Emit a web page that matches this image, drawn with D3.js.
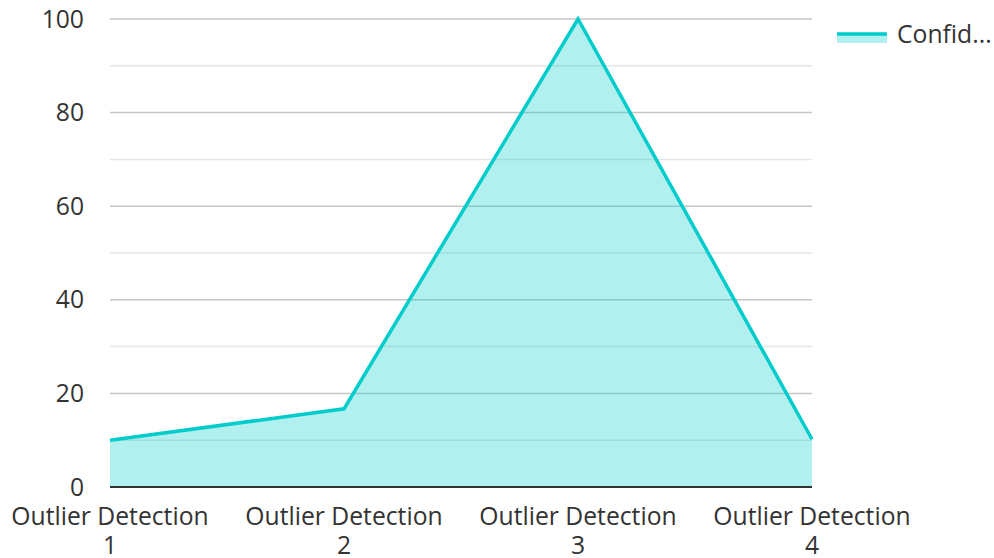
<!DOCTYPE html>
<html>
<head>
<meta charset="utf-8">
<script src="https://cdn.jsdelivr.net/npm/d3@7"></script>
<style>
  body { margin: 0; background: #fff; }
  svg text { font-family: 'Open Sans', 'Noto Sans', sans-serif; fill: #333; }
</style>
</head>
<body>
<div id="target"></div>
<script>
const width = 994;
const height = 558;

const categories = ['Outlier Detection 1', 'Outlier Detection 2', 'Outlier Detection 3', 'Outlier Detection 4'];
const values = [10, 16.7, 100, 10.2];
const seriesName = 'Confidence';
const yTicks = [0, 20, 40, 60, 80, 100];
const yMinor = [10, 30, 50, 70, 90];

const margin = { left: 110, right: 182, top: 19, bottom: 71 };
const lineColor = '#00cccc';
const fillColor = 'rgba(0, 204, 204, 0.3)';
const fontSize = '24.7px';

const svg = d3.select('#target').append('svg').attr('width', width).attr('height', height);

const x = d3.scalePoint().domain(categories).range([margin.left, width - margin.right]);
const y = d3.scaleLinear().domain([0, 100]).range([height - margin.bottom, margin.top]);

// grid
svg.selectAll('.minor')
  .data(yMinor)
  .enter()
  .append('line')
  .attr('x1', margin.left)
  .attr('x2', width - margin.right)
  .attr('y1', (d) => y(d))
  .attr('y2', (d) => y(d))
  .attr('stroke', '#e6e6e6')
  .attr('stroke-width', 1.5);

svg.selectAll('.major')
  .data(yTicks.filter((d) => d > 0))
  .enter()
  .append('line')
  .attr('x1', margin.left)
  .attr('x2', width - margin.right)
  .attr('y1', (d) => y(d))
  .attr('y2', (d) => y(d))
  .attr('stroke', '#c6c6c6')
  .attr('stroke-width', 1.5);

// y labels
svg.selectAll('.ylab')
  .data(yTicks)
  .enter()
  .append('text')
  .attr('x', 84)
  .attr('y', (d) => y(d))
  .attr('dy', '0.35em')
  .attr('text-anchor', 'end')
  .style('font-size', fontSize)
  .text((d) => d);

const pts = categories.map((c, i) => ({ c, v: values[i] }));

const area = d3.area()
  .x((d) => x(d.c))
  .y0(y(0))
  .y1((d) => y(d.v));

const line = d3.line()
  .x((d) => x(d.c))
  .y((d) => y(d.v));

svg.append('path').datum(pts).attr('d', area).attr('fill', fillColor);
svg.append('path').datum(pts).attr('d', line)
  .attr('fill', 'none')
  .attr('stroke', lineColor)
  .attr('stroke-width', 3.5)
  .attr('stroke-linejoin', 'miter');

// x axis line
svg.append('line')
  .attr('x1', margin.left)
  .attr('x2', width - margin.right)
  .attr('y1', y(0))
  .attr('y2', y(0))
  .attr('stroke', '#333')
  .attr('stroke-width', 2);

// x labels, two lines
svg.selectAll('.xlab1')
  .data(categories)
  .enter()
  .append('text')
  .attr('x', (d) => x(d))
  .attr('y', 525)
  .attr('text-anchor', 'middle')
  .style('font-size', fontSize)
  .text((d) => d.replace(/ \d+$/, ''));

svg.selectAll('.xlab2')
  .data(categories)
  .enter()
  .append('text')
  .attr('x', (d) => x(d))
  .attr('y', 554)
  .attr('text-anchor', 'middle')
  .style('font-size', fontSize)
  .text((d) => d.match(/\d+$/)[0]);

// legend
const lg = svg.append('g').attr('transform', 'translate(837, 34)');
lg.append('rect').attr('x', 0).attr('y', 0).attr('width', 50).attr('height', 9).attr('fill', fillColor);
lg.append('line').attr('x1', 0).attr('x2', 50).attr('y1', 0).attr('y2', 0)
  .attr('stroke', lineColor).attr('stroke-width', 3.5);
lg.append('text')
  .attr('x', 60)
  .attr('y', 0)
  .attr('dy', '0.35em')
  .style('font-size', fontSize)
  .text(seriesName.slice(0, 6) + '...');
</script>
</body>
</html>
